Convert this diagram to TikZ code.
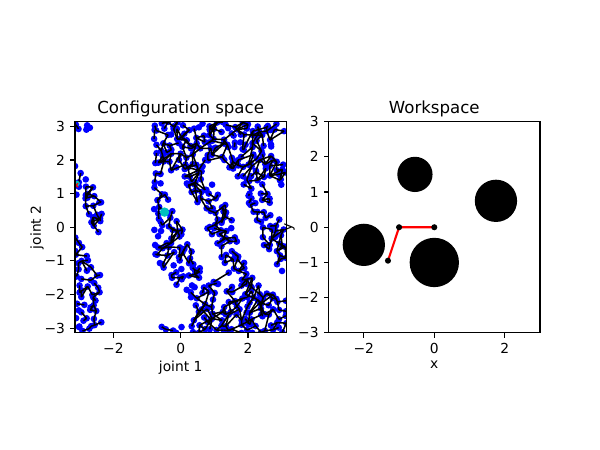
\documentclass[tikz,border=0pt]{standalone}
\usepackage{fontspec}
\setmainfont{DejaVu Sans}
\usepackage{tikz}
\definecolor{CSBlue}{HTML}{0000FF}
\definecolor{CSCyan}{HTML}{00BFBF}
\definecolor{CSRed}{HTML}{FF0000}

\newif\ifprmhit
\newcommand\prmseg[7]{%
  \pgfmathsetmacro\prmt{max(0,min(1,((#5)-(#1))*(#3)+((#6)-(#2))*(#4)))}%
  \pgfmathsetmacro\prmu{(#5)-(#1)-\prmt*(#3)}%
  \pgfmathsetmacro\prmv{(#6)-(#2)-\prmt*(#4)}%
  \pgfmathsetmacro\prmd{\prmu*\prmu+\prmv*\prmv-(#7)*(#7)}%
  \ifdim\prmd pt<0pt\global\prmhittrue\fi}
\newcommand\prmcheck[2]{%
  \global\prmhitfalse
  \pgfmathsetmacro\prmca{cos(deg(#1))}\pgfmathsetmacro\prmsa{sin(deg(#1))}%
  \pgfmathsetmacro\prmcb{cos(deg(#1+#2))}\pgfmathsetmacro\prmsb{sin(deg(#1+#2))}%
  \foreach \ox/\oy/\orr in {-0.55/1.5/0.5,1.75/0.75/0.6,-2/-0.5/0.6,0/-1/0.7}{%
    \prmseg{0}{0}{\prmca}{\prmsa}{\ox}{\oy}{\orr}%
    \prmseg{\prmca}{\prmsa}{\prmcb}{\prmsb}{\ox}{\oy}{\orr}}}
\newcommand\prmflag[2]{\ifcsname prmF#1.#2\endcsname\csname prmF#1.#2\endcsname\else0\fi}
\newcommand\prmlink[5]{%
  \ifnum\prmflag{#3}{#4}=1
    \pgfmathsetmacro\prmr{rnd}%
    \ifdim\prmr pt<#5pt\draw[prmedge] (p#1-#2) -- (p#3-#4);\fi
  \fi}

\begin{document}
\begin{tikzpicture}[x=0.254mm,y=-0.254mm,
  prmedge/.style={black,line width=1.1pt},
  prmnode/.style={CSBlue},
  axframe/.style={black,line width=0.8pt},
  tick/.style={black,line width=0.8pt}]
\path[use as bounding box] (0,0) rectangle (600,450);
\fill[white] (0,0) rectangle (600,450);

% configuration space
\begin{scope}[shift={(180.7,227.25)},x=8.547mm,y=8.547mm]
\clip (-3.1416,-3.1416) rectangle (3.1416,3.1416);
\pgfmathsetseed{11}
\foreach \i in {0,...,33}{
  \foreach \j in {0,...,33}{
    \pgfmathsetmacro\qa{-pi+(\i+rnd)*pi/17}
    \pgfmathsetmacro\qb{-pi+(\j+rnd)*pi/17}
    \pgfmathtruncatemacro\keep{rnd<0.88}
    \prmcheck{\qa}{\qb}
    \ifprmhit\def\keep{0}\fi
    \expandafter\xdef\csname prmF\i.\j\endcsname{\keep}
    \coordinate (p\i-\j) at (\qa,\qb);
  }}
\foreach \i in {0,...,33}{
  \foreach \j in {0,...,33}{
    \ifnum\prmflag{\i}{\j}=1
      \fill[prmnode] (p\i-\j) circle (2.4pt);
    \fi
  }}
\foreach \i in {0,...,33}{
  \foreach \j in {0,...,33}{
    \ifnum\prmflag{\i}{\j}=1
      \pgfmathtruncatemacro\ni{\i+1}
      \pgfmathtruncatemacro\nni{\i+2}
      \pgfmathtruncatemacro\nj{\j+1}
      \pgfmathtruncatemacro\nnj{\j+2}
      \pgfmathtruncatemacro\mj{\j-1}
      \prmlink{\i}{\j}{\ni}{\j}{0.45}
      \prmlink{\i}{\j}{\i}{\nj}{0.45}
      \prmlink{\i}{\j}{\ni}{\nj}{0.22}
      \prmlink{\i}{\j}{\ni}{\mj}{0.22}
      \prmlink{\i}{\j}{\nni}{\nj}{0.12}
      \prmlink{\i}{\j}{\ni}{\nnj}{0.12}
    \fi
  }}
\fill[CSCyan] (-3.08,1.3) circle (2pt);
\draw[CSRed,line width=1pt] (-3.17,1.19) -- (-3.05,1.31) (-3.17,1.31) -- (-3.05,1.19);
\fill[CSCyan] (-0.48,0.45) circle (3.4pt);
\end{scope}
\draw[axframe] (75,121.5) rectangle (286.4,332.9);
\foreach \k/\lab in {-2/−2,0/0,2/2}{
  \draw[tick] ({180.7+\k*33.65},332.9) -- ++(0,4.86);
  \node[anchor=north,inner sep=0pt] at ({180.7+\k*33.65},342.6) {\lab};
}
\foreach \k/\lab in {-3/−3,-2/−2,-1/−1,0/0,1/1,2/2,3/3}{
  \draw[tick] (75,{227.25-\k*33.65}) -- ++(-4.86,0);
  \node[anchor=east,inner sep=0pt] at (65.3,{227.25-\k*33.65}) {\lab};
}
\node[anchor=base] at (180.7,113.5) {\fontsize{12}{14}\selectfont Configuration space};
\node[anchor=north,inner sep=0pt] at (180.7,361) {joint 1};
\node[rotate=90,anchor=south,inner sep=0pt] at (44,227.25) {joint 2};

% workspace
\begin{scope}[shift={(434.3,227.25)},x=8.948mm,y=8.948mm]
\fill[black] (-0.55,1.5) circle (0.5);
\fill[black] (1.75,0.75) circle (0.6);
\fill[black] (-2,-0.5) circle (0.6);
\fill[black] (0,-1) circle (0.7);
\coordinate (base) at (0,0);
\coordinate (elbow) at (-1,0);
\coordinate (tip) at (-1.315,-0.949);
\draw[CSRed,line width=1.5pt] (base) -- (elbow) -- (tip);
\foreach \pt in {base,elbow,tip}
  \fill[black] (\pt) circle (2.2pt);
\end{scope}
\draw[axframe] (328.6,121.5) rectangle (540,332.9);
\foreach \k/\lab in {-2/−2,0/0,2/2}{
  \draw[tick] ({434.3+\k*35.23},332.9) -- ++(0,4.86);
  \node[anchor=north,inner sep=0pt] at ({434.3+\k*35.23},342.6) {\lab};
}
\foreach \k/\lab in {-3/−3,-2/−2,-1/−1,0/0,1/1,2/2,3/3}{
  \draw[tick] (328.6,{227.25-\k*35.23}) -- ++(-4.86,0);
  \node[anchor=east,inner sep=0pt] at (318.9,{227.25-\k*35.23}) {\lab};
}
\node[anchor=base] at (434.3,113.5) {\fontsize{12}{14}\selectfont Workspace};
\node[anchor=north,inner sep=0pt] at (434.3,361) {x};
\node[rotate=90,anchor=south,inner sep=0pt] at (295,227.25) {y};
\end{tikzpicture}
\end{document}
